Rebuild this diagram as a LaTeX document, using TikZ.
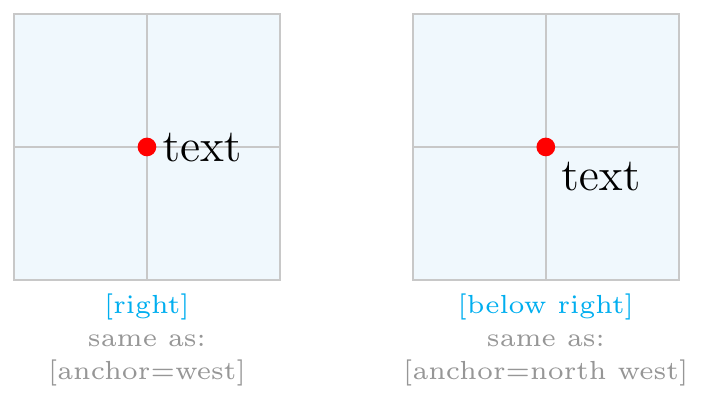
\documentclass[tikz,border=0pt]{standalone}
\definecolor{gridfill}{RGB}{240,248,253}
\definecolor{gridline}{RGB}{200,200,200}
\definecolor{labelblue}{RGB}{0,174,239}
\definecolor{labelgray}{RGB}{150,150,150}
\font\labelfnt=cmr6 at 8.4pt
\font\demofnt=cmr12 at 14.8pt
\tikzset{
  panel/.style={draw=gridline, fill=gridfill, line width=0.6pt},
  gridln/.style={draw=gridline, line width=0.6pt},
  dot/.style={circle, fill=red, inner sep=0pt, minimum size=6pt},
  demotext/.style={font=\demofnt, text=black, inner sep=4.8pt},
  keylabel/.style={anchor=base, text=labelblue, font=\labelfnt, inner sep=0pt},
  samelabel/.style={anchor=base, text=labelgray, font=\labelfnt, inner sep=0pt}
}
\begin{document}
\begin{tikzpicture}
\useasboundingbox (-0.158,-1.524) rectangle (7.92,3.158);
% left panel
\draw[panel] (0,0) rectangle (3,3);
\draw[gridln] (1.5,0) -- (1.5,3);
\draw[gridln] (0,1.5) -- (3,1.5);
\coordinate (pa) at (1.5,1.5);
\node[dot] (da) at (pa) {};
\node[demotext, right] (ta) at (pa) {text};
\node[keylabel] (ka) at (1.5,-0.378) {[right]};
\node[samelabel] (sa) at (1.5,-0.756) {same as:};
\node[samelabel] (aa) at (1.5,-1.122) {[anchor=west]};
% right panel
\draw[panel] (4.5,0) rectangle (7.5,3);
\draw[gridln] (6,0) -- (6,3);
\draw[gridln] (4.5,1.5) -- (7.5,1.5);
\coordinate (pb) at (6,1.5);
\node[dot] (db) at (pb) {};
\node[demotext, below right] (tb) at (pb) {text};
\node[keylabel] (kb) at (6,-0.378) {[below right]};
\node[samelabel] (sb) at (6,-0.756) {same as:};
\node[samelabel] (ab) at (6,-1.122) {[anchor=north west]};
\end{tikzpicture}
\end{document}
